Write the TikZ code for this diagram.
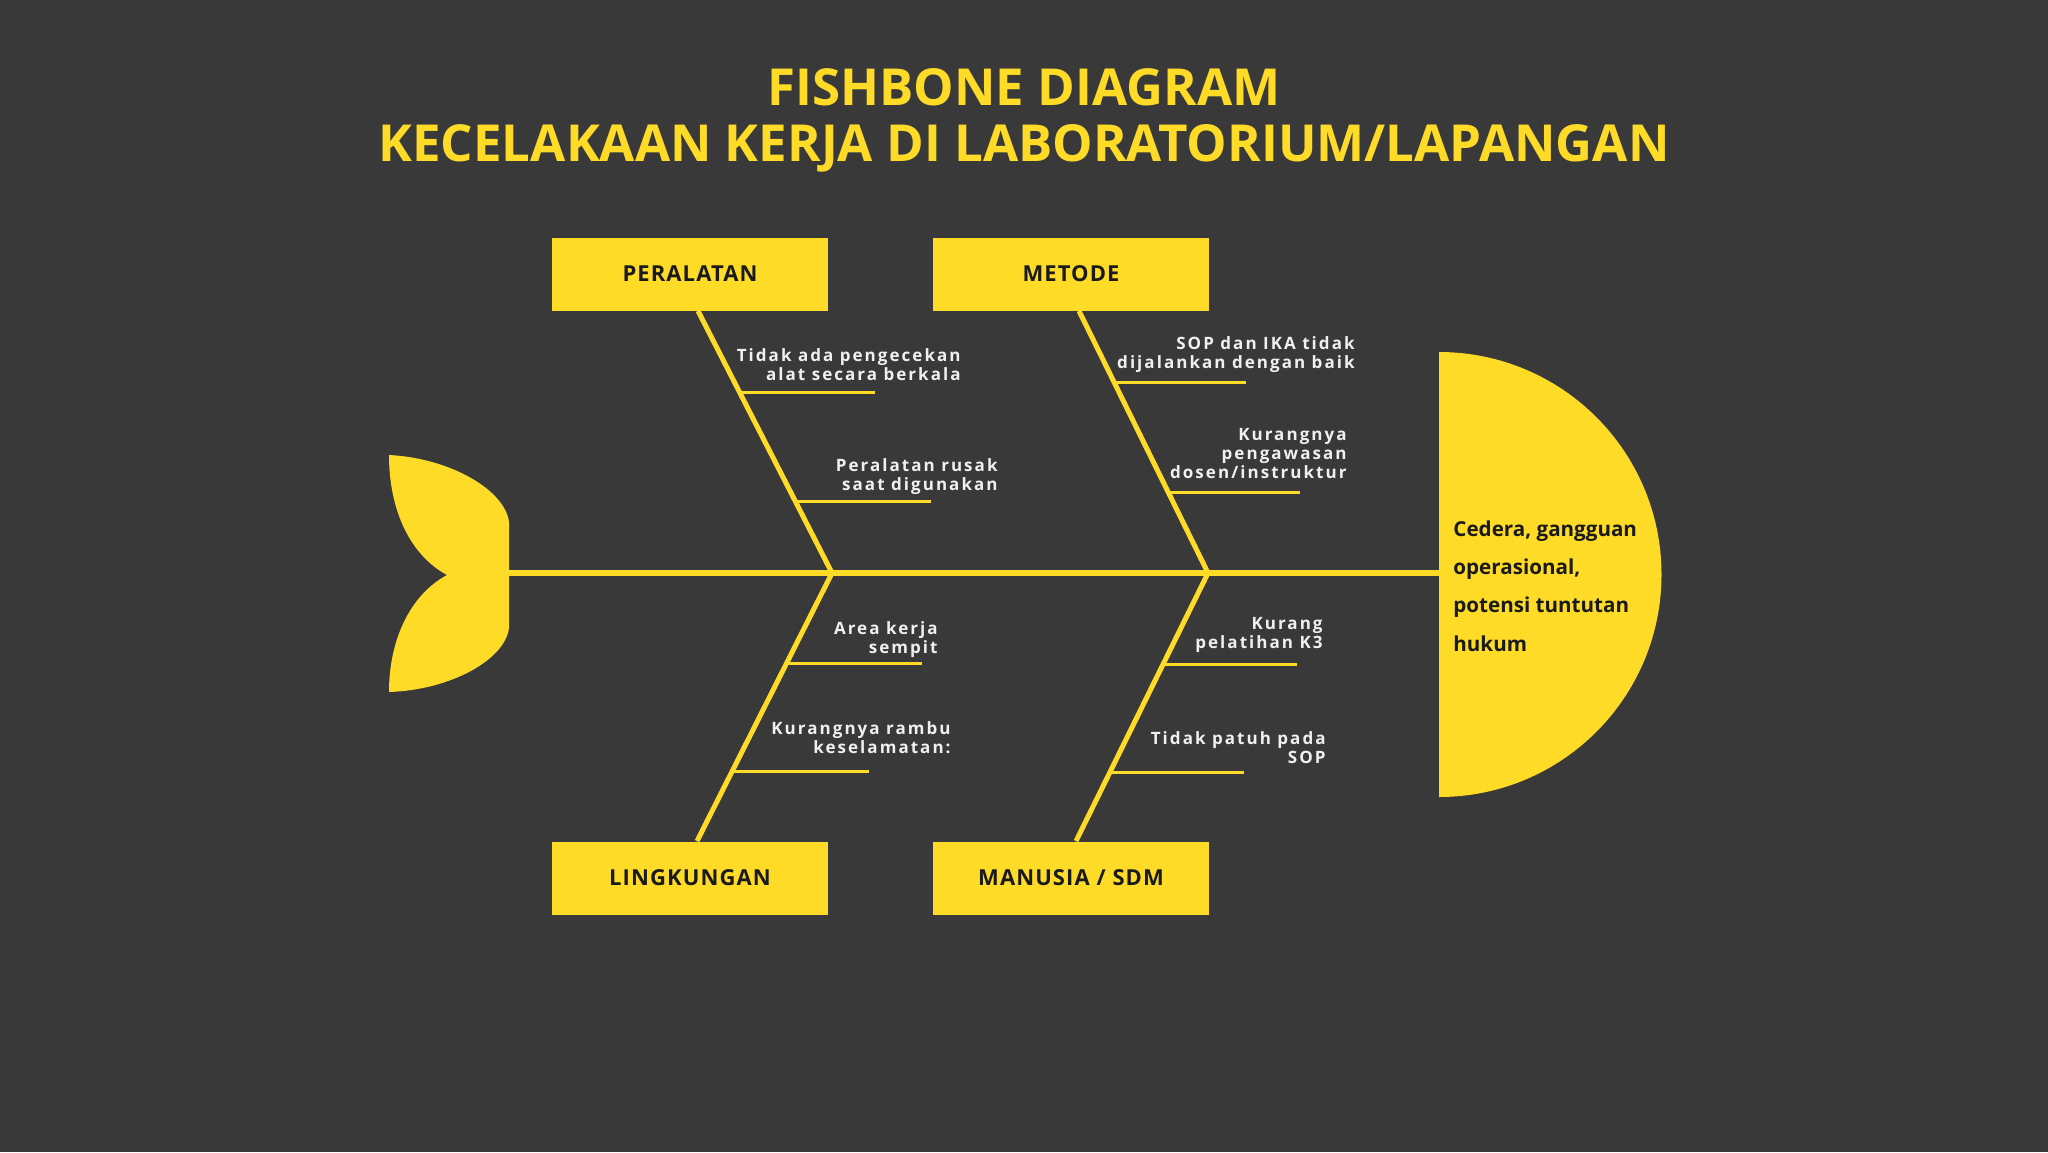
\documentclass[tikz,border=0pt]{standalone}
\usepackage{fontspec}
\setmainfont{Open Sans}
\newfontfamily\wider[LetterSpace=5]{Open Sans}
\newfontfamily\widest[LetterSpace=12]{Open Sans}
\usetikzlibrary{calc}
\definecolor{bg}{HTML}{393939}
\definecolor{fishyellow}{HTML}{FDDB27}
\definecolor{ink}{HTML}{1A1A1A}
\tikzset{
  catbox/.style={fill=fishyellow, minimum width=138pt, minimum height=36.5pt, inner sep=0pt,
    text=ink, font=\wider\bfseries\fontsize{11}{13}\selectfont},
  spine/.style={fishyellow, line width=3.25pt},
  bone/.style={fishyellow, line width=2.5pt},
  twig/.style={fishyellow, line width=1.5pt},
  cause/.style={anchor=north east, align=right, inner sep=0pt, text=white!94!black,
    font=\widest\bfseries\fontsize{8.5}{9.5}\selectfont},
}

\begin{document}
\begin{tikzpicture}[x=0.5pt,y=-0.5pt]
\fill[bg] (0,0) rectangle (2048,1152);

\node[anchor=north, align=center, inner sep=0pt, text=fishyellow,
  font=\bfseries\fontsize{25.5}{28}\selectfont] (title) at (1024,68)
  {FISHBONE DIAGRAM\\KECELAKAAN KERJA DI LABORATORIUM/LAPANGAN};

\fill[fishyellow] (389,455) .. controls (450,458) and (505,490) .. (509,522) -- (509,628)
  .. controls (505,660) and (450,690) .. (389,692) .. controls (389,640) and (410,595) .. (447,575)
  .. controls (410,555) and (389,510) .. cycle;
\fill[fishyellow] (1439,352) arc[start angle=-90, end angle=90, radius=222.5] -- cycle;

\coordinate (tail) at (509,573);
\coordinate (head) at (1439,573);
\coordinate (apexL) at (832,573);
\coordinate (apexR) at (1208,573);
\draw[spine] (tail) -- (head);

\node[catbox] (peralatan) at (690,274) {PERALATAN};
\node[catbox] (metode) at (1071,274) {METODE};
\node[catbox] (lingkungan) at (690,878) {LINGKUNGAN};
\node[catbox] (manusia) at (1071,878) {MANUSIA / SDM};

\coordinate (boneA) at ($(peralatan.south)+(8,0)$);
\coordinate (boneB) at ($(metode.south)+(8,0)$);
\coordinate (boneC) at ($(lingkungan.north)+(7,0)$);
\coordinate (boneD) at ($(manusia.north)+(5,0)$);
\draw[bone] (boneA) -- (apexL);
\draw[bone] (boneB) -- (apexR);
\draw[bone] (boneC) -- (apexL);
\draw[bone] (boneD) -- (apexR);

\draw[twig] ($(boneA)!0.313!(apexL)$) -- ++(135,0);
\draw[twig] ($(boneA)!0.729!(apexL)$) -- ++(135,0);
\draw[twig] ($(boneB)!0.275!(apexR)$) -- ++(132,0);
\draw[twig] ($(boneB)!0.691!(apexR)$) -- ++(132,0);
\draw[twig] ($(apexL)!0.336!(boneC)$) -- ++(135,0);
\draw[twig] ($(apexL)!0.739!(boneC)$) -- ++(137,0);
\draw[twig] ($(apexR)!0.34!(boneD)$) -- ++(134,0);
\draw[twig] ($(apexR)!0.743!(boneD)$) -- ++(134,0);

\node[cause] (alat1) at (961,348) {Tidak ada pengecekan\\alat secara berkala};
\node[cause] (alat2) at (998,458) {Peralatan rusak\\saat digunakan};
\node[cause] (metode1) at (1355,336) {SOP dan IKA tidak\\dijalankan dengan baik};
\node[cause] (metode2) at (1347,428) {Kurangnya\\pengawasan\\dosen/instruktur};
\node[cause] (ling1) at (938,621) {Area kerja\\sempit};
\node[cause] (ling2) at (951,721) {Kurangnya rambu\\keselamatan:};
\node[cause] (sdm1) at (1323,617) {Kurang\\pelatihan K3};
\node[cause] (sdm2) at (1326,731) {Tidak patuh pada\\SOP};

\node[anchor=north west, align=left, inner sep=0pt, text=ink,
  font=\bfseries\fontsize{10.3}{19.2}\selectfont] (effect) at (1453,520)
  {Cedera, gangguan\\operasional,\\potensi tuntutan\\hukum};
\end{tikzpicture}
\end{document}
